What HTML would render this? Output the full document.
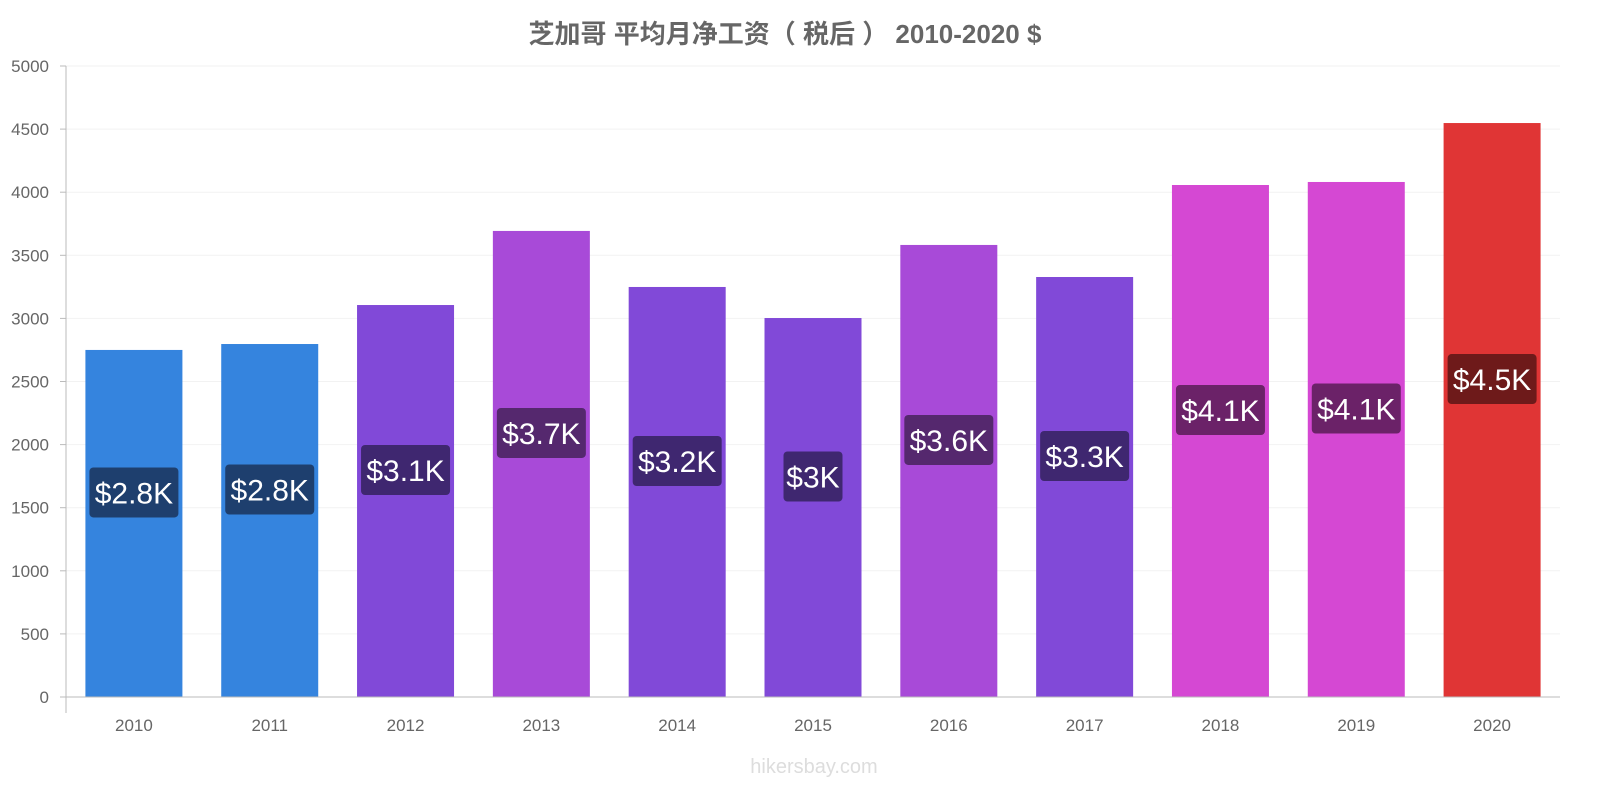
<!DOCTYPE html>
<html><head><meta charset="utf-8"><style>
body{margin:0;background:#fff;}
svg{display:block;font-family:"Liberation Sans","Noto Sans CJK SC",sans-serif;}
</style></head><body>
<svg id="chart" width="1600" height="800">
<text x="785" y="43" text-anchor="middle" font-size="26" font-weight="bold" fill="#666">芝加哥 平均月净工资（ 税后 ） 2010-2020 $</text>
<g id="grid"></g><g id="bars"></g><g id="axes"></g>
<text x="814" y="773" text-anchor="middle" font-size="20" fill="#ddd">hikersbay.com</text>
</svg>
<script>
const categories=["2010","2011","2012","2013","2014","2015","2016","2017","2018","2019","2020"];
const values=[2750,2797,3106,3693,3249,3003,3582,3328,4057,4081,4548];
const valueLabels=["$2.8K","$2.8K","$3.1K","$3.7K","$3.2K","$3K","$3.6K","$3.3K","$4.1K","$4.1K","$4.5K"];
const yTicks=[0,500,1000,1500,2000,2500,3000,3500,4000,4500,5000];
const barColors=["#3584de","#3584de","#8149d8","#a84ad8","#8149d8","#8149d8","#a84ad8","#8149d8","#d548d3","#d548d3","#e03535"];
const labelColors=["#1e3f6e","#1e3f6e","#3f2770","#55286e","#3f2770","#3f2770","#55286e","#3f2770","#6b2268","#6b2268","#6e1a1a"];
const NS="http://www.w3.org/2000/svg";
const x0=66,x1=1560,y0=697,yTop=66,yMax=5000;
const y=v=>y0-(v/yMax)*(y0-yTop);
const bw=(x1-x0)/categories.length;
const xc=i=>x0+bw*(i+0.5);
function mk(t,a,p){const e=document.createElementNS(NS,t);for(const k in a)e.setAttribute(k,a[k]);p.appendChild(e);return e;}
const grid=document.getElementById('grid'),bars=document.getElementById('bars'),axes=document.getElementById('axes');
yTicks.forEach(t=>{
 const l=mk('line',{x1:x0,x2:x1,y1:y(t),y2:y(t),stroke:'#f2f2f2'},grid);
 
 
 const tk=mk('line',{x1:x0-6,x2:x0,y1:y(t),y2:y(t),stroke:'#bbb'},axes);
 
 
 const tx=mk('text',{x:x0-17,y:y(t)+6,'text-anchor':'end','font-size':17,fill:'#666'},axes);
 tx.textContent=t;
 
 
});
values.forEach((v,i)=>{
 const w=97,top=y(v);
 const r=mk('rect',{x:xc(i)-w/2,y:top,width:w,height:y0-top,fill:barColors[i]},bars);
 
 
 const cy=(top+y0)/2-31;
 const lw=valueLabels[i].length*15+14;
 const lb=mk('rect',{x:xc(i)-lw/2,y:cy-25,width:lw,height:50,rx:4,fill:labelColors[i]},bars);
 
 
 const lt=mk('text',{x:xc(i),y:cy+11,'text-anchor':'middle','font-size':30,fill:'#fff'},bars);
 lt.textContent=valueLabels[i];
 
 
 const xt=mk('text',{x:xc(i),y:731,'text-anchor':'middle','font-size':17,fill:'#666'},axes);
 xt.textContent=categories[i];
 
 
});
const ya=mk('line',{x1:x0,x2:x0,y1:yTop,y2:713,stroke:'#bbb'},axes);


const xa=mk('line',{x1:x0-6,x2:x1,y1:y0,y2:y0,stroke:'#bbb'},axes);


</script>
</body></html>
